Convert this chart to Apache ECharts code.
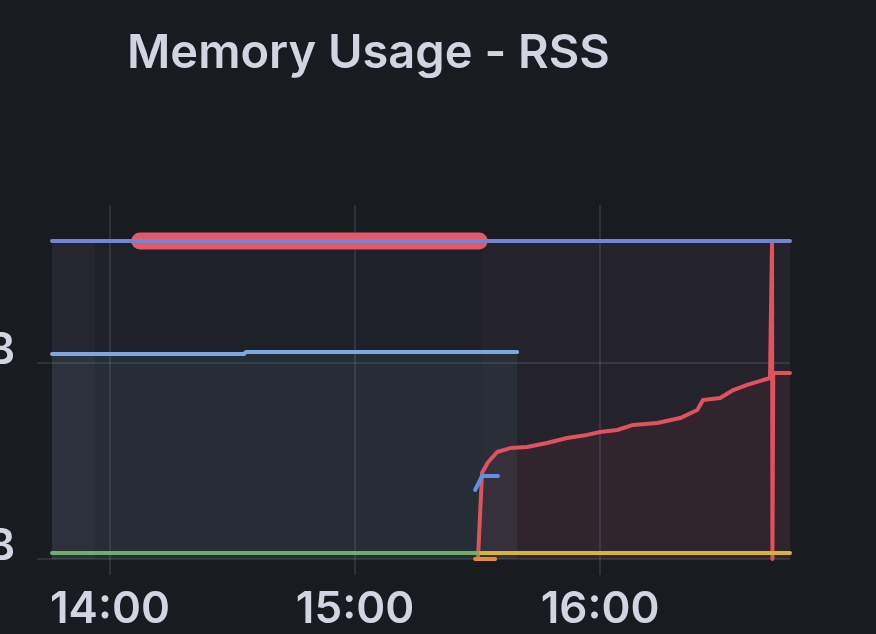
<!DOCTYPE html>
<html><head><meta charset="utf-8">
<script src="https://cdn.jsdelivr.net/npm/echarts@6/dist/echarts.min.js"></script>
<style>html,body{margin:0;padding:0;background:#181b1f;}#c{width:876px;height:634px;}</style>
</head><body><div id="c"></div>
<script>
const chartTitle = 'Memory Usage - RSS';
const xTickTimes = ['14:00:00', '15:00:00', '16:00:00'];
const xTickLabels = ['14:00', '15:00', '16:00'];
const yTickValues = [0, 1];
const yTickLabels = ['0 B', '1 GiB'];
const viewStart = '13:45:48';
const viewEnd = '16:46:30';
const yMax = 1.806;

// values in GiB
const limitTimes = ['13:45:48', '16:46:30'];
const limitVals = [1.622, 1.622];
const limitFillATimes = ['13:45:48', '13:56:18'];
const limitFillAVals = [1.622, 1.622];
const limitFillBTimes = ['13:56:18', '15:30:54'];
const limitFillBVals = [1.622, 1.622];
const limitFillCTimes = ['15:30:54', '16:46:30'];
const limitFillCVals = [1.622, 1.622];

const oldPodBarTimes = ['14:07:18', '15:30:24'];
const oldPodBarVals = [1.622, 1.622];

const oldRssTimes = ['13:45:48', '14:32:48', '14:33:18', '15:39:42'];
const oldRssVals = [1.046, 1.046, 1.056, 1.056];

const newRssTimes = ['15:30:06', '15:31:06', '15:32:36', '15:34:48', '15:38:00', '15:42:06', '15:47:00', '15:51:54',
  '15:56:48', '16:00:00', '16:04:12', '16:08:06', '16:14:00', '16:19:36', '16:23:48', '16:25:12', '16:29:24',
  '16:32:36', '16:36:00', '16:39:54', '16:41:36', '16:42:06', '16:42:12', '16:42:24', '16:46:30'];
const newRssVals = [0, 0.44, 0.495, 0.546, 0.566, 0.571, 0.592, 0.617,
  0.633, 0.648, 0.658, 0.684, 0.694, 0.719, 0.760, 0.811, 0.821,
  0.862, 0.888, 0.913, 0.923, 1.622, 0, 0.949, 0.949];

const initTimes = ['15:29:24', '15:31:06', '15:35:00'];
const initVals = [0.352, 0.423, 0.423];

const sidecarOldTimes = ['13:45:48', '15:30:54'];
const sidecarOldVals = [0.031, 0.031];
const sidecarNewTimes = ['15:30:54', '16:46:30'];
const sidecarNewVals = [0.031, 0.031];
const pauseTimes = ['15:29:24', '15:34:18'];
const pauseVals = [0, 0];

function ts(s) {
  const p = s.split(':').map(Number);
  return new Date(2024, 0, 15, p[0], p[1], p[2] || 0).getTime();
}
function pts(times, vals) { return times.map((t, i) => [ts(t), vals[i]]); }

const chart = echarts.init(document.getElementById('c'), null, {renderer: 'canvas'});
const fontFam = 'Inter, Roboto, sans-serif';
const gridCol = 'rgba(204,204,220,0.13)';
const xTickVals = xTickTimes.map(ts);

function line(name, data, color, width, extra) {
  return Object.assign({
    name, type: 'line', data, showSymbol: false, symbol: 'none',
    lineStyle: {color, width, cap: 'round', join: 'round'},
    itemStyle: {color}, animation: false
  }, extra || {});
}
function fill(name, data, color) {
  return {name, type: 'line', data, showSymbol: false, symbol: 'none',
    lineStyle: {width: 0, opacity: 0}, areaStyle: {color, opacity: 1}, animation: false, z: 1};
}

chart.setOption({
  backgroundColor: '#181b1f',
  animation: false,
  title: {
    text: chartTitle, left: 122, top: 25,
    textStyle: {color: '#d3d3e2', fontSize: 47, fontWeight: 600, fontFamily: fontFam}
  },
  grid: {left: 52, right: 86, top: 205, bottom: 75, containLabel: false, outerBoundsMode: 'none'},
  xAxis: {
    type: 'value', min: ts(viewStart), max: ts(viewEnd),
    axisLine: {show: false},
    axisTick: {show: true, length: 16, lineStyle: {color: gridCol, width: 2}, customValues: xTickVals},
    axisLabel: {
      color: '#d3d3e2', fontSize: 44, fontWeight: 600, fontFamily: fontFam, margin: 29,
      customValues: xTickVals,
      formatter: v => { const i = xTickVals.indexOf(v); return i >= 0 ? xTickLabels[i] : ''; }
    },
    splitLine: {show: true, lineStyle: {color: gridCol, width: 2}}
  },
  yAxis: {
    type: 'value', min: 0, max: yMax,
    axisLine: {show: false},
    axisTick: {show: true, length: 15, lineStyle: {color: gridCol, width: 2}, customValues: yTickValues},
    axisLabel: {
      color: '#d3d3e2', fontSize: 44, fontWeight: 600, fontFamily: fontFam, margin: 37,
      customValues: yTickValues, verticalAlign: 'bottom', lineHeight: 24,
      formatter: v => { const i = yTickValues.indexOf(v); return i >= 0 ? yTickLabels[i] : ''; }
    },
    splitLine: {show: true, lineStyle: {color: gridCol, width: 2}}
  },
  series: [
    fill('limit fill A', pts(limitFillATimes, limitFillAVals), 'rgba(170,140,200,0.10)'),
    fill('limit fill B', pts(limitFillBTimes, limitFillBVals), 'rgba(84,87,131,0.10)'),
    fill('limit fill C', pts(limitFillCTimes, limitFillCVals), 'rgba(144,97,151,0.10)'),
    line('rss old', pts(oldRssTimes, oldRssVals), '#7ea6e0', 4, {areaStyle: {color: 'rgba(120,170,212,0.12)'}}),
    line('rss new', pts(newRssTimes, newRssVals), '#e0525e', 4, {areaStyle: {color: 'rgba(242,73,92,0.09)'}}),
    line('sidecar old', pts(sidecarOldTimes, sidecarOldVals), '#6fae69', 4),
    line('sidecar new', pts(sidecarNewTimes, sidecarNewVals), '#d6b536', 4),
    line('pause', pts(pauseTimes, pauseVals), '#e58a3a', 4),
    line('init', pts(initTimes, initVals), '#5f8fe8', 4),
    line('old pod', pts(oldPodBarTimes, oldPodBarVals), '#e35a66', 17),
    line('limit', pts(limitTimes, limitVals), '#7585d6', 4)
  ]
});
</script></body></html>
